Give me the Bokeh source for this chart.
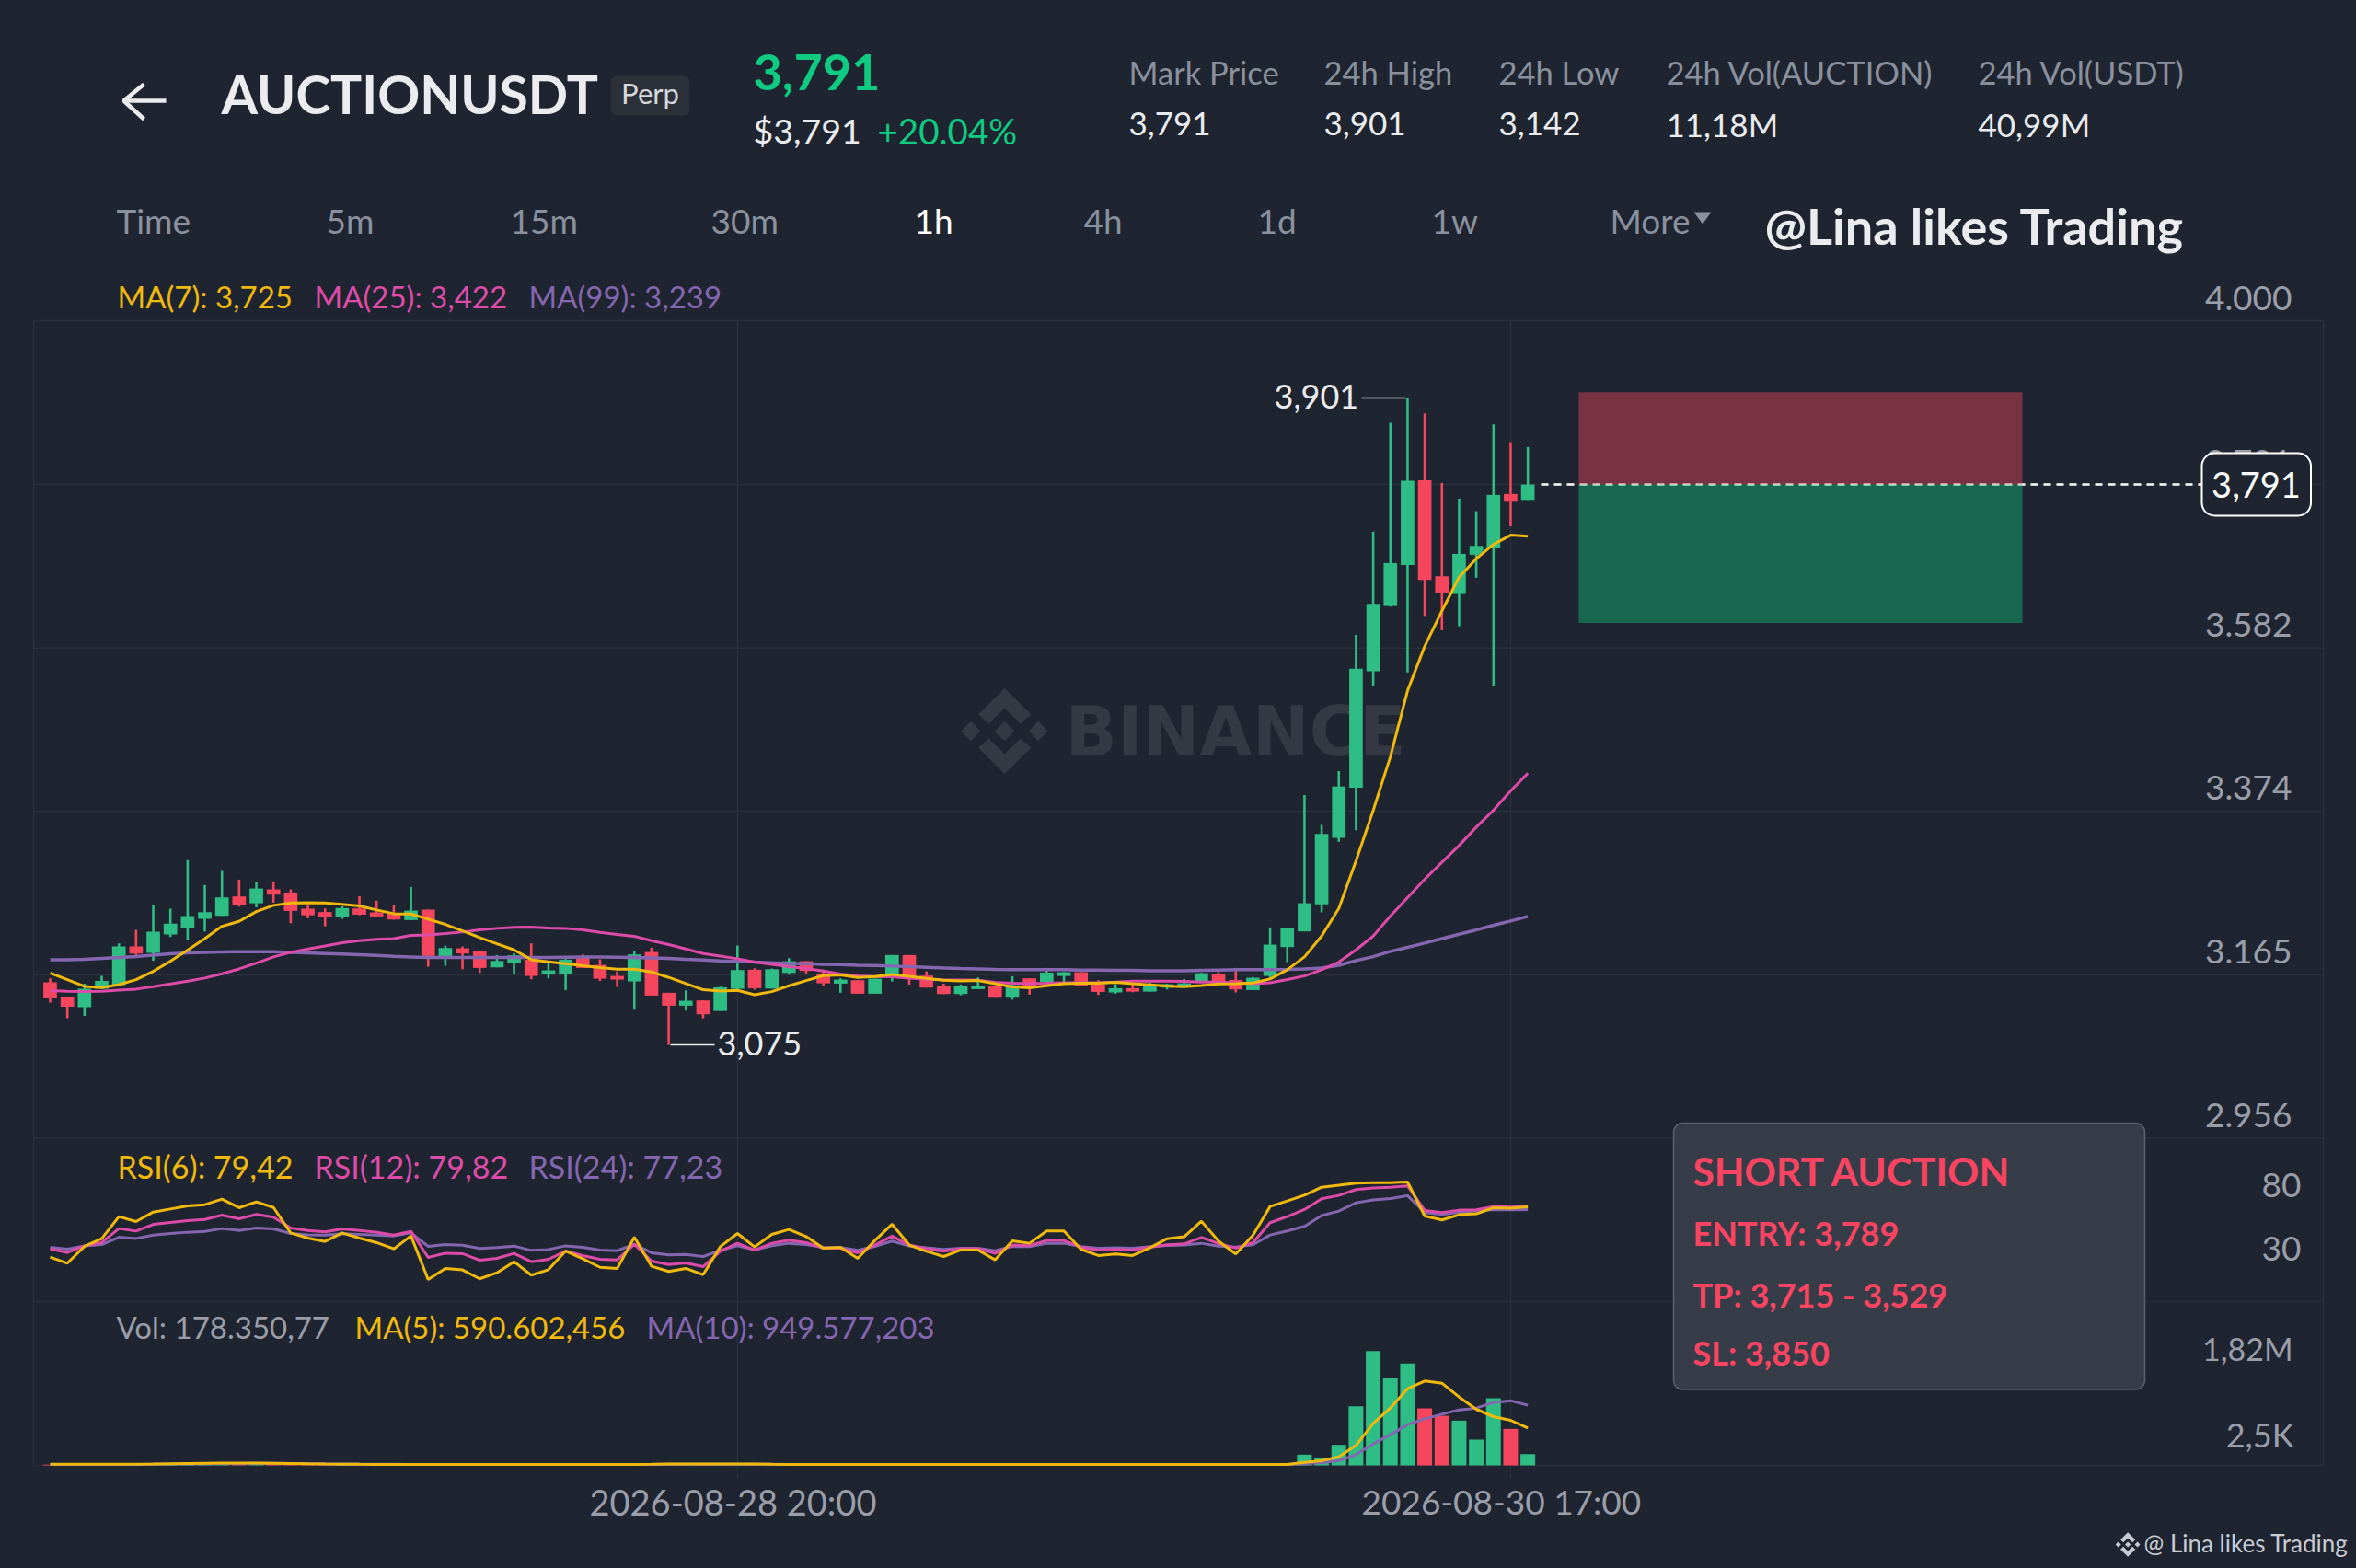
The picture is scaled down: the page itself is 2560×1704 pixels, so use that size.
from bokeh.plotting import figure
from bokeh.models import Range1d, BoxAnnotation
from bokeh.core.properties import value
from bokeh.embed import file_html
from bokeh.resources import INLINE

# ---------- data ----------
opens = [3.1549,3.1369,3.1231,3.1467,3.1514,3.2008,3.1925,3.2160,3.2239,3.2360,3.2400,3.2646,3.2560,3.2737,3.2697,3.2490,3.2447,3.2380,3.2494,3.2443,3.2435,3.2345,3.2478,3.1882,3.1984,3.1945,3.1741,3.1800,3.1839,3.1659,3.1655,3.1886,3.1772,3.1631,3.1561,3.1937,3.1416,3.1251,3.1318,3.1184,3.1467,3.1710,3.1470,3.1670,3.1819,3.1663,3.1533,3.1576,3.1404,3.1659,3.1898,3.1635,3.1506,3.1400,3.1463,3.1498,3.1353,3.1600,3.1553,3.1631,3.1678,3.1521,3.1420,3.1474,3.1431,3.1482,3.1494,3.1561,3.1655,3.1580,3.1451,3.1631,3.2000,3.2200,3.2545,3.3395,3.4036,3.5522,3.6357,3.6882,3.7964,3.6737,3.6522,3.7012,3.7094,3.7788,3.7713]
highs = [3.1600,3.1369,3.1533,3.1631,3.2047,3.2219,3.2533,3.2490,3.3109,3.2792,3.2972,3.2862,3.2827,3.2839,3.2737,3.2541,3.2494,3.2521,3.2650,3.2592,3.2533,3.2768,3.2478,3.2019,3.2008,3.1949,3.1898,3.1921,3.2047,3.1796,3.1847,3.1906,3.1843,3.1690,3.1945,3.1992,3.1416,3.1447,3.1318,3.1494,3.2019,3.1729,3.1725,3.1859,3.1819,3.1710,3.1600,3.1576,3.1596,3.1898,3.1898,3.1690,3.1533,3.1521,3.1612,3.1498,3.1627,3.1600,3.1733,3.1682,3.1678,3.1576,3.1525,3.1533,3.1549,3.1533,3.1592,3.1670,3.1678,3.1733,3.1616,3.2251,3.2239,3.3942,3.3560,3.4248,3.5988,3.7306,3.8697,3.9010,3.8819,3.7929,3.7729,3.7568,3.8678,3.8450,3.8387]
lows = [3.1290,3.1090,3.1122,3.1467,3.1514,3.1886,3.1827,3.2129,3.2090,3.2200,3.2400,3.2517,3.2509,3.2568,3.2305,3.2368,3.2266,3.2360,3.2407,3.2392,3.2352,3.2345,3.1749,3.1761,3.1717,3.1670,3.1741,3.1659,3.1588,3.1600,3.1451,3.1733,3.1568,3.1490,3.1200,3.1380,3.0750,3.1188,3.1090,3.1184,3.1435,3.1455,3.1470,3.1647,3.1663,3.1506,3.1416,3.1404,3.1404,3.1561,3.1521,3.1482,3.1400,3.1384,3.1463,3.1353,3.1329,3.1392,3.1545,3.1553,3.1498,3.1388,3.1404,3.1423,3.1431,3.1459,3.1482,3.1561,3.1561,3.1420,3.1451,3.1600,3.1808,3.2200,3.2443,3.3344,3.3493,3.5342,3.6349,3.5510,3.6231,3.6047,3.6098,3.6718,3.5342,3.7376,3.7713]
closes = [3.1345,3.1239,3.1467,3.1568,3.2008,3.1918,3.2196,3.2298,3.2396,3.2447,3.2635,3.2541,3.2748,3.2670,3.2462,3.2407,3.2380,3.2498,3.2415,3.2392,3.2352,3.2466,3.1886,3.1988,3.1918,3.1733,3.1823,3.1894,3.1631,3.1702,3.1839,3.1733,3.1596,3.1584,3.1906,3.1380,3.1251,3.1314,3.1141,3.1486,3.1706,3.1474,3.1717,3.1819,3.1694,3.1537,3.1584,3.1404,3.1596,3.1898,3.1631,3.1482,3.1400,3.1506,3.1506,3.1353,3.1514,3.1486,3.1674,3.1678,3.1498,3.1427,3.1474,3.1431,3.1521,3.1525,3.1537,3.1666,3.1561,3.1459,3.1608,3.2031,3.2239,3.2560,3.3446,3.4052,3.5557,3.6384,3.6906,3.7956,3.6690,3.6529,3.7023,3.7125,3.7776,3.7701,3.7910]

ma7 = [3.1670,3.1584,3.1498,3.1482,3.1521,3.1584,3.1690,3.1819,3.1960,3.2109,3.2266,3.2329,3.2454,3.2533,3.2564,3.2568,3.2564,3.2545,3.2525,3.2474,3.2427,3.2423,3.2356,3.2290,3.2207,3.2121,3.2043,3.1964,3.1839,3.1812,3.1788,3.1761,3.1737,3.1717,3.1717,3.1682,3.1612,3.1533,3.1455,3.1439,3.1447,3.1392,3.1431,3.1506,3.1572,3.1635,3.1643,3.1612,3.1623,3.1651,3.1627,3.1600,3.1576,3.1568,3.1572,3.1533,3.1490,3.1478,3.1506,3.1533,3.1537,3.1537,3.1549,3.1533,3.1518,3.1502,3.1494,3.1510,3.1529,3.1533,3.1541,3.1592,3.1710,3.1874,3.2141,3.2494,3.3101,3.3746,3.4432,3.5275,3.5843,3.6294,3.6725,3.6961,3.7145,3.7262,3.7250]
ma25 = [3.1443,3.1435,3.1431,3.1435,3.1451,3.1463,3.1494,3.1529,3.1565,3.1604,3.1659,3.1721,3.1796,3.1874,3.1933,3.1976,3.2015,3.2055,3.2082,3.2098,3.2109,3.2149,3.2156,3.2172,3.2192,3.2219,3.2239,3.2251,3.2254,3.2243,3.2239,3.2219,3.2188,3.2160,3.2137,3.2082,3.2031,3.1976,3.1917,3.1886,3.1851,3.1808,3.1780,3.1749,3.1725,3.1694,3.1655,3.1631,3.1623,3.1619,3.1604,3.1588,3.1580,3.1580,3.1576,3.1549,3.1537,3.1533,3.1537,3.1545,3.1545,3.1545,3.1553,3.1565,3.1565,3.1565,3.1561,3.1553,3.1553,3.1545,3.1533,3.1545,3.1584,3.1631,3.1710,3.1808,3.1964,3.2141,3.2396,3.2631,3.2866,3.3082,3.3297,3.3532,3.3748,3.3995,3.4220]
ma99 = [3.1839,3.1839,3.1843,3.1855,3.1866,3.1878,3.1898,3.1913,3.1925,3.1933,3.1937,3.1941,3.1941,3.1941,3.1933,3.1925,3.1918,3.1910,3.1902,3.1894,3.1882,3.1874,3.1866,3.1866,3.1866,3.1866,3.1866,3.1866,3.1866,3.1866,3.1870,3.1874,3.1874,3.1870,3.1866,3.1862,3.1855,3.1843,3.1835,3.1823,3.1819,3.1808,3.1800,3.1792,3.1788,3.1780,3.1776,3.1768,3.1764,3.1757,3.1749,3.1741,3.1733,3.1725,3.1721,3.1714,3.1710,3.1710,3.1710,3.1710,3.1706,3.1706,3.1702,3.1702,3.1698,3.1698,3.1698,3.1702,3.1706,3.1710,3.1710,3.1710,3.1714,3.1721,3.1733,3.1768,3.1827,3.1878,3.1945,3.1996,3.2051,3.2109,3.2164,3.2219,3.2278,3.2333,3.2392]

rsi6 = [39.8,35.0,48.3,54.3,71.7,67.8,75.3,77.7,80.1,81.1,85.5,78.7,83.3,78.9,58.9,54.8,52.1,58.9,54.8,51.2,46.3,56.5,22.2,30.9,29.7,22.7,27.5,36.2,25.6,29.9,44.6,38.6,31.8,30.9,55.5,32.6,28.5,30.9,26.0,48.0,58.4,47.8,57.7,61.6,56.0,46.8,47.6,38.9,52.9,65.7,49.3,44.4,40.3,45.4,45.4,37.7,52.6,50.7,60.4,60.4,45.9,41.1,42.3,41.1,47.1,54.3,55.8,68.1,52.4,42.3,57.0,79.7,84.0,88.6,94.9,96.4,98.1,98.5,98.5,99.0,72.2,69.1,73.2,73.9,78.7,78.3,79.42]
rsi12 = [46.3,43.4,48.7,51.2,62.3,60.3,65.6,67.1,68.5,69.5,72.9,70.0,73.4,71.2,62.8,60.8,59.6,62.0,60.8,59.4,57.2,60.1,39.6,42.9,42.5,37.4,38.8,42.7,36.2,38.1,44.6,41.0,38.1,37.6,50.0,36.7,34.0,35.2,32.3,44.4,50.7,45.2,50.7,53.1,51.2,46.8,46.8,43.2,49.3,56.3,49.3,46.4,44.4,46.4,46.4,42.7,49.3,48.8,52.9,52.9,47.6,45.4,45.9,45.4,47.6,49.5,50.2,55.3,50.5,46.9,51.2,66.9,71.7,77.3,85.7,88.4,93.0,94.2,94.9,95.9,76.6,74.9,76.8,77.0,79.7,79.2,79.82]
rsi24 = [47.5,46.1,48.7,49.7,55.5,54.5,57.2,58.4,59.4,60.1,62.3,60.8,62.8,62.0,58.4,57.4,57.2,58.2,57.7,57.2,56.5,58.9,48.3,49.7,49.2,46.6,47.3,48.5,45.1,45.8,48.7,47.5,45.4,44.9,50.0,43.2,41.5,42.0,40.3,45.1,48.8,45.6,48.8,50.7,49.7,47.6,47.3,45.2,48.3,52.4,48.5,47.1,45.9,46.8,46.8,44.9,48.3,48.1,50.7,50.7,48.1,46.8,47.1,46.8,48.1,49.0,49.3,50.7,48.5,47.8,49.5,57.2,60.4,64.0,72.5,76.1,82.6,84.8,86.0,88.2,74.9,73.4,75.1,76.3,77.3,77.0,77.23]

volume = [12000,9000,14000,11000,32000,15000,30000,24000,52000,38000,46000,28000,24000,19000,26000,15000,14000,12000,15000,10000,12000,18000,31000,14000,11000,13000,9000,10000,15000,9000,12000,10000,9000,8000,26000,23000,30000,11000,13000,14000,22000,13000,11000,12000,8000,10000,8000,11000,10000,13000,14000,9000,8000,7000,6000,10000,12000,8000,11000,6000,9000,7000,6000,5000,6000,5000,6000,8000,7000,10000,13000,12000,14000,169400,121000,324280,934120,1805320,1384240,1606880,900240,784080,706640,406560,1059960,575960,178350.77]
vol_ma5 = [18000,18000,18000,18000,18000,18000,20000,24000,28000,32000,36000,36000,35000,32000,28000,24000,21000,19000,17000,16000,16000,16000,16000,16000,15000,15000,15000,15000,15000,15000,15000,15000,15000,15000,16000,18000,21000,23000,23000,22000,22000,20000,17000,15000,15000,14500,14500,14500,14500,14500,14500,14500,14500,14500,14500,14500,14500,14500,14500,14500,14500,14500,14500,14500,14500,14500,14500,14500,14500,14500,14500,14520,14520,48400,72600,135520,314600,663080,905080,1210000,1331000,1297120,1079320,885720,769560,711480,590602.456]
vol_ma10 = [15000,15000,15000,15000,15000,16000,18000,20000,23000,26000,28000,30000,31000,31000,30000,28000,25000,23000,20000,18000,17000,16000,16000,16000,16000,15000,15000,15000,15000,15000,15000,15000,15000,15000,15000,16000,17000,18000,18000,19000,19000,18000,17000,16000,15000,15000,14500,14500,14500,14500,14500,14500,14500,14500,14500,14500,14500,14500,14500,14500,14500,14500,14500,14500,14500,14500,14500,14500,14500,14500,14500,14520,14520,24200,43560,72600,169400,338800,484000,643720,735680,808280,876040,905080,992200,1021240,949577.203]

price_ticks = [4.000, 3.791, 3.582, 3.374, 3.165, 2.956]
price_tick_labels = ["4.000", "3.791", "3.582", "3.374", "3.165", "2.956"]
rsi_ticks = [80, 30]
last_price = 3.791
sl_level = 3.909
tp_level = 3.614

BG = "#1e2530"; GRID = "#2a303b"
GREEN = "#2ebd85"; RED = "#f6465d"; BRIGHT_GREEN = "#0ecb81"
ORANGE = "#f0b90b"; PINK = "#de4ba8"; PURPLE = "#8566b0"
WHITE = "#eaecef"; GREY = "#8a919e"; AXIS = "#9a9ea9"
FONT = "Lato"

n = len(closes)
idx = list(range(n))

# px range mirrors the 2560x1704 page
W, H = 2560, 1704
p = figure(width=W, height=H, output_backend="svg", toolbar_location=None,
           x_axis_type=None, y_axis_type=None, min_border=0,
           x_range=Range1d((0 - 54) / 18.67, (2560 - 54) / 18.67),
           y_range=Range1d(3.791 - (1704 - 526) / 850.6, 3.791 + 526 / 850.6),
           background_fill_color=BG, border_fill_color=BG, outline_line_color=None)
p.grid.visible = False
p.extra_x_ranges["px"] = Range1d(0, 2560)
p.extra_y_ranges["px"] = Range1d(1704, 0)
p.extra_y_ranges["rsi"] = Range1d(79.42 - (1704 - 1311) / 1.38, 79.42 + 1311 / 1.38)
p.extra_y_ranges["vol"] = Range1d(-112 * 14520, 1592 * 14520)
PX = dict(x_range_name="px", y_range_name="px")


def T(x, y, s, size, color, style="normal", align="left", font=FONT, level="glyph"):
    if align == "left":
        x -= 2
    return p.text(x=[x], y=[y - 2], text=[s], text_color=color, text_font=value(font),
                  text_font_size=value(f"{size}px"), text_font_style=style,
                  text_align=align, text_baseline="middle", level=level, **PX)


# grid
p.segment(x0=[36] * 8, x1=[2524] * 8, y0=[348, 526, 703.7, 881, 1059, 1236.6, 1414, 1592],
          y1=[348, 526, 703.7, 881, 1059, 1236.6, 1414, 1592], line_color=GRID, line_width=1.5, **PX)
p.segment(x0=[36, 800.8, 1641, 2524], x1=[36, 800.8, 1641, 2524], y0=[348] * 4,
          y1=[1592, 1606, 1606, 1592], line_color=GRID, line_width=1.5, **PX)


def logo(cx, cy, k, color):
    pieces = [
        [(0, -140), (87, -54), (52, -24), (0, -75), (-51, -24), (-85, -54)],
        [(0, 140), (87, 54), (52, 24), (0, 75), (-51, 24), (-85, 54)],
        [(0, -32), (33, 0), (0, 32), (-33, 0)],
        [(-110, -32), (-78, 0), (-110, 32), (-141, 0)],
        [(110, -32), (142, 0), (110, 32), (79, 0)],
    ]
    xs = [[cx + a * k for a, b in pc] for pc in pieces]
    ys = [[cy + b * k for a, b in pc] for pc in pieces]
    p.patches(xs, ys, fill_color=color, line_color=None, **PX)


# watermark
logo(1091, 794, 1 / 3, "#343943")
T(1159, 796, "BINANCE", 74, "#343943", style="bold", font="DejaVu Sans")

# volume
vcol = [GREEN if c >= o else RED for o, c in zip(opens, closes)]
p.vbar(x=idx, top=volume, bottom=0, width=0.857, fill_color=vcol, line_color=None, y_range_name="vol")
p.line(idx, vol_ma10, line_color=PURPLE, line_width=3, y_range_name="vol")
p.line(idx, vol_ma5, line_color=ORANGE, line_width=3, y_range_name="vol")

# RSI
p.line(idx, rsi24, line_color=PURPLE, line_width=3, y_range_name="rsi")
p.line(idx, rsi12, line_color=PINK, line_width=3, y_range_name="rsi")
p.line(idx, rsi6, line_color=ORANGE, line_width=3, y_range_name="rsi")

# candles
p.segment(idx, lows, idx, highs, line_color=vcol, line_width=2.6)
p.vbar(x=idx, top=[max(o, c) for o, c in zip(opens, closes)], bottom=[min(o, c) for o, c in zip(opens, closes)],
       width=0.787, fill_color=vcol, line_color=None)
p.line(idx, ma99, line_color=PURPLE, line_width=3.5)
p.line(idx, ma25, line_color=PINK, line_width=3)
p.line(idx, ma7, line_color=ORANGE, line_width=3)

# last price line and trade zone
p.segment(x0=[1674], x1=[2392], y0=[last_price], y1=[last_price], line_color="#ffffff", line_width=2.5,
          line_dash="8 6", x_range_name="px")
p.quad(left=[1715], right=[2197], top=[sl_level], bottom=[last_price], fill_color=RED, fill_alpha=0.42,
       line_color=None, x_range_name="px")
p.quad(left=[1715], right=[2197], top=[last_price], bottom=[tp_level], fill_color=BRIGHT_GREEN, fill_alpha=0.4,
       line_color=None, x_range_name="px")

# high / low marks
p.segment(x0=[1479, 728], x1=[1527, 776], y0=[432, 1135], y1=[432, 1135], line_color=WHITE, line_width=1.6, **PX)
T(1386, 432, "3,901", 36, WHITE)
T(781, 1135, "3,075", 36, WHITE)

# axis labels (above their grid lines)
for v, s in zip(price_ticks, price_tick_labels):
    p.text(x=[2490], y=[v], text=[s], text_color=AXIS, text_font=value(FONT), text_font_size=value("37px"),
           text_align="right", text_baseline="middle", y_offset=-25, x_range_name="px")
for v in rsi_ticks:
    p.text(x=[2500], y=[v], text=[str(v)], text_color=AXIS, text_font=value(FONT), text_font_size=value("37px"),
           text_align="right", text_baseline="middle", y_offset=-23, x_range_name="px", y_range_name="rsi")
T(2491, 1467, "1,82M", 34, AXIS, align="right")
T(2492, 1560, "2,5K", 36, AXIS, align="right")
T(642, 1633, "2026-08-28 20:00", 38, AXIS)
T(1481, 1633, "2026-08-30 17:00", 37, AXIS)

# current price tag
p.add_layout(BoxAnnotation(left=2392, right=2510.5, top=492, bottom=560, fill_color=BG, fill_alpha=1,
                           line_color="#ffffff", line_width=2, line_alpha=1, border_radius=14, level="annotation",
                           editable=False, **PX))
T(2451, 528, "3,791", 38, "#ffffff", align="center", level="overlay")

# signal card
p.add_layout(BoxAnnotation(left=1818, right=2330, top=1220, bottom=1509.5, fill_color="#373d48", fill_alpha=1,
                           line_color="#5b606b", line_width=1.5, line_alpha=1, border_radius=10, level="annotation",
                           editable=False, **PX))
SIG = "#fb4461"
T(1841, 1274, "SHORT AUCTION", 42.5, SIG, style="bold", level="overlay")
T(1841, 1341, "ENTRY: 3,789", 36, SIG, style="bold", level="overlay")
T(1841, 1408, "TP: 3,715 - 3,529", 36, SIG, style="bold", level="overlay")
T(1841, 1471, "SL: 3,850", 36, SIG, style="bold", level="overlay")

# header
p.multi_line([[156, 134, 156], [134, 180]], [[91, 109, 129], [109, 109]], line_color=WHITE, line_width=4.5, **PX)
T(242, 103, "AUCTIONUSDT", 57, WHITE, style="bold")
p.add_layout(BoxAnnotation(left=663.5, right=749, top=82, bottom=125, fill_color="#2b3039", fill_alpha=1,
                           line_color=None, border_radius=6, level="annotation", editable=False, **PX))
T(706, 102, "Perp", 31, "#d5d8dc", align="center", level="overlay")
T(820, 80, "3,791", 54, BRIGHT_GREEN, style="bold")
T(820, 143, "$3,791", 37.5, WHITE)
T(955, 143, "+20.04%", 38.5, BRIGHT_GREEN)

stat_x = [1228, 1440, 1630, 1812, 2151]
stat_names = ["Mark Price", "24h High", "24h Low", "24h Vol(AUCTION)", "24h Vol(USDT)"]
stat_values = ["3,791", "3,901", "3,142", "11,18M", "40,99M"]
for x, a, b in zip(stat_x, stat_names, stat_values):
    T(x, 80, a, 34.5, GREY)
    T(x, 136, b, 35, WHITE)

tab_x = [128, 356, 556, 774, 995, 1179, 1368, 1557, 1751]
tab_names = ["Time", "5m", "15m", "30m", "1h", "4h", "1d", "1w", "More"]
for x, s in zip(tab_x, tab_names):
    T(x, 241, s, 37, "#ffffff" if s == "1h" else GREY)
p.patch([1840, 1859, 1849.5], [230, 230, 243], fill_color=GREY, line_color=None, **PX)
T(1919, 247, "@Lina likes Trading", 54, WHITE, style="bold")

# legends
T(129, 323, "MA(7): 3,725", 33, ORANGE)
T(343, 323, "MA(25): 3,422", 33, PINK)
T(576, 323, "MA(99): 3,239", 33, PURPLE)
T(129, 1269, "RSI(6): 79,42", 34, ORANGE)
T(343, 1269, "RSI(12): 79,82", 34, PINK)
T(576, 1269, "RSI(24): 77,23", 34, PURPLE)
T(128, 1443, "Vol: 178.350,77", 33, AXIS)
T(387, 1443, "MA(5): 590.602,456", 33, ORANGE)
T(704, 1443, "MA(10): 949.577,203", 33, PURPLE)

# footer
logo(2311.6, 1678, 0.095, "#c8ccd2")
T(2331, 1678, "@ Lina likes Trading", 26, "#c8ccd2")

html = file_html(p, INLINE)
html = html.replace("</head>", "<style>html,body{background:#1e2530;margin:0}</style></head>", 1)
open("out.html", "w").write(html)
